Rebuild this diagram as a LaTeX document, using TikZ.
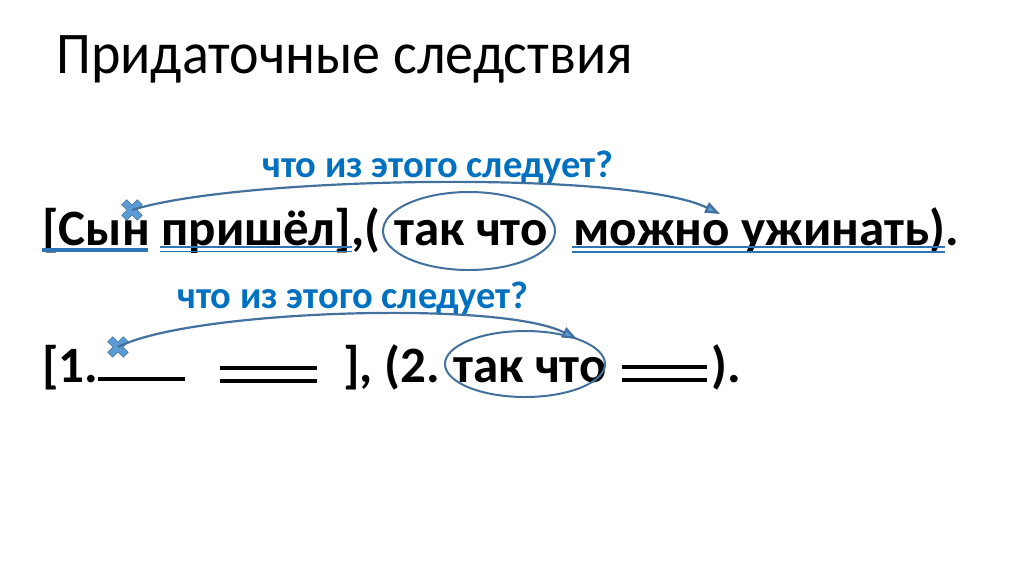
\documentclass[tikz,border=0pt]{standalone}
\usepackage{fontspec}
\setmainfont{Carlito}
\newfontfamily\titlefont[FakeStretch=0.95]{Carlito}
\usetikzlibrary{arrows.meta,calc}
\definecolor{qblue}{HTML}{0070C0}
\definecolor{lblue}{HTML}{2E75B6}
\definecolor{eblue}{HTML}{41719C}
\definecolor{cfill}{HTML}{5B9BD5}
\tikzset{
  title/.style={anchor=base west, inner sep=0pt, font=\titlefont\fontsize{59}{62}\selectfont},
  main/.style={anchor=base west, inner sep=0pt, font=\bfseries\fontsize{51}{53}\selectfont},
  quest/.style={anchor=base, inner sep=0pt, text=qblue, font=\bfseries\fontsize{38.5}{40}\selectfont},
  ring/.style={draw=eblue, line width=2pt},
  uline/.style={draw=lblue, line width=3.2pt},
  dline/.style={draw=lblue, line width=1.4pt},
  bline/.style={draw=black, line width=3.2pt},
  link/.style={draw=eblue, line width=2.2pt, -{Triangle[length=15pt,width=11pt,fill=cfill]}}
}
\newcommand{\crossat}[1]{%
  \filldraw[fill=cfill,draw=eblue,line width=0.6pt,rotate around={45:#1}]
    ($#1+(-3.5,-11)$) -- ($#1+(3.5,-11)$) -- ($#1+(3.5,-3.5)$) -- ($#1+(11,-3.5)$)
    -- ($#1+(11,3.5)$) -- ($#1+(3.5,3.5)$) -- ($#1+(3.5,11)$) -- ($#1+(-3.5,11)$)
    -- ($#1+(-3.5,3.5)$) -- ($#1+(-11,3.5)$) -- ($#1+(-11,-3.5)$) -- ($#1+(-3.5,-3.5)$) -- cycle;}
\begin{document}
\begin{tikzpicture}[x=1pt,y=-1pt]
\useasboundingbox[fill=white] (0,0) rectangle (1024,574);
% title
\node[title] (ttl) at (56,73) {Придаточные следствия};
% line 1
\node[quest] (q1) at (438,177) {что из этого следует?};
\node[main] (a1) at (42,245) {[Сын пришёл],(};
\node[main] (b1) at (394,245) {так что};
\node[main] (c1) at (573,245) {можно ужинать).};
\draw[ring] (469,231) ellipse [x radius=86, y radius=39];
\draw[uline] (42,250) -- (148,250);
\draw[dline] (160,247) -- (352,247);
\draw[dline] (160,251.5) -- (352,251.5);
\draw[dline] (572,247) -- (945,247);
\draw[dline] (572,252) -- (945,252);
\coordinate (s1) at (132,210);
\coordinate (e1) at (720,214);
\crossat{(s1)}
\draw[link] (s1) .. controls (240,176) and (630,170) .. (e1);
% line 2
\node[quest] (q2) at (353,308) {что из этого следует?};
\node[main] (a2) at (42,382) {[1.};
\node[main] (b2) at (343,382) {], (2.};
\node[main] (c2) at (453,382) {так что};
\node[main] (d2) at (711,382) {).};
\draw[ring] (525,364) ellipse [x radius=80, y radius=33];
\draw[bline] (98,379) -- (185,379);
\draw[bline] (220,368) -- (317,368);
\draw[bline] (220,381) -- (317,381);
\draw[bline] (622,367) -- (707,367);
\draw[bline] (622,380) -- (707,380);
\coordinate (s2) at (118,347);
\coordinate (e2) at (577,339);
\crossat{(s2)}
\draw[link] (s2) .. controls (190,310) and (500,300) .. (e2);
\end{tikzpicture}
\end{document}
